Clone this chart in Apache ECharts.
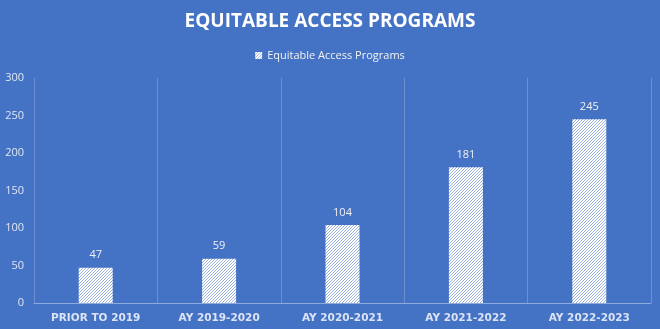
<!DOCTYPE html>
<html>
<head>
<meta charset="utf-8">
<script src="https://cdn.jsdelivr.net/npm/echarts@6/dist/echarts.min.js"></script>
<style>
  html, body { margin: 0; padding: 0; background: #4472C4; }
  #chart { width: 660px; height: 329px; }
</style>
</head>
<body>
<div id="chart"></div>
<script>
const categories = ['PRIOR TO 2019', 'AY 2019-2020', 'AY 2020-2021', 'AY 2021-2022', 'AY 2022-2023'];
const programCounts = [47, 59, 104, 181, 245];
const seriesName = 'Equitable Access Programs';
const yTicks = [0, 50, 100, 150, 200, 250, 300];

// White fill with fine blue diagonal hatching
function makeHatch() {
  const c = document.createElement('canvas');
  c.width = 3; c.height = 3;
  const g = c.getContext('2d');
  g.fillStyle = '#ffffff';
  g.fillRect(0, 0, 3, 3);
  g.fillStyle = '#9db3df';
  // one pixel per row, shifted to form a "/" diagonal
  g.fillRect(2, 0, 1, 1);
  g.fillRect(1, 1, 1, 1);
  g.fillRect(0, 2, 1, 1);
  return c;
}
const hatch = makeHatch();

const chart = echarts.init(document.getElementById('chart'), null, { renderer: 'canvas' });
chart.setOption({
  backgroundColor: '#4472C4',
  animation: false,
  title: {
    text: 'EQUITABLE ACCESS PROGRAMS',
    left: 'center',
    top: 7,
    textStyle: { color: '#ffffff', fontFamily: 'Open Sans', fontWeight: 'bold', fontSize: 19 }
  },
  legend: {
    top: 45,
    left: 'center',
    itemWidth: 7,
    itemHeight: 7,
    itemGap: 3,
    textStyle: { color: '#f2f2f2', fontFamily: 'Open Sans', fontSize: 11 },
    data: [{ name: seriesName, icon: 'rect' }]
  },
  grid: { left: 34, right: 9, top: 78, bottom: 26, containLabel: false },
  xAxis: {
    type: 'category',
    data: categories,
    axisLine: { show: true, lineStyle: { color: '#8faadc', width: 1 } },
    axisTick: { show: false },
    splitLine: { show: true, interval: 0, lineStyle: { color: '#6f8fd0', width: 1 } },
    axisLabel: { color: '#dce4f4', fontFamily: 'DejaVu Sans', fontWeight: 'bold', fontSize: 10.5, margin: 10, interval: 0 }
  },
  yAxis: {
    type: 'value',
    min: yTicks[0],
    max: yTicks[yTicks.length - 1],
    interval: 50,
    axisLine: { show: true, lineStyle: { color: '#6f8fd0', width: 1 } },
    axisTick: { show: false },
    splitLine: { show: false },
    axisLabel: { color: '#e0e6f4', fontFamily: 'Open Sans', fontSize: 11, margin: 10 }
  },
  series: [{
    name: seriesName,
    type: 'bar',
    data: programCounts,
    barWidth: 34,
    itemStyle: { color: { image: hatch, repeat: 'repeat' } },
    label: {
      show: true,
      position: 'top',
      distance: 7,
      color: '#f2f2f2',
      fontFamily: 'Open Sans',
      fontSize: 11
    }
  }]
});
</script>
</body>
</html>
